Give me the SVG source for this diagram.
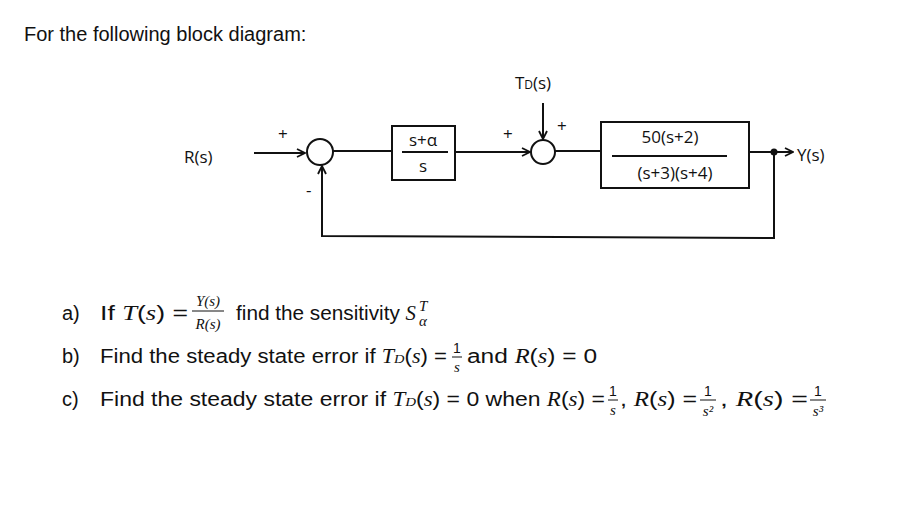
<svg xmlns="http://www.w3.org/2000/svg" width="897" height="522" viewBox="0 0 897 522">
<style>
.t{font-family:"Liberation Sans",Arial,sans-serif;font-size:20px;fill:#111}
.h{font-family:"Open Sans","Liberation Sans",sans-serif;font-size:17px;fill:#111}
.m{font-family:"Liberation Serif",serif;font-style:italic;font-size:20px;fill:#111}
.ms{font-family:"Liberation Serif",serif;font-style:italic;font-size:15px;fill:#111}
.n{font-family:"Liberation Sans",sans-serif;font-size:14px;fill:#111}
.s{fill:none;stroke:#111;stroke-width:2}
</style>
<defs><marker id="a" markerWidth="10" markerHeight="10" refX="9" refY="5" orient="auto" markerUnits="userSpaceOnUse"><path d="M1,1 L9,5 L1,9" fill="none" stroke="#111" stroke-width="1.8"/></marker></defs>
<rect width="897" height="522" fill="#fff"/>
<text class="t" x="24" y="41">For the following block diagram:</text>
<g id="R"><text class="h" x="184" y="163" font-size="21">R(s)</text></g>
<g id="sum1"><circle class="s" cx="320" cy="152" r="13"/><text class="h" x="278" y="140" font-size="14">+</text><text class="h" x="306" y="196" font-size="16">-</text></g>
<g id="G1"><rect class="s" x="392" y="126" width="63" height="54"/><text class="h" x="423" y="146" text-anchor="middle">s+α</text><line class="s" x1="402" y1="152" x2="448" y2="152" stroke-width="1.5"/><text class="h" x="423" y="172" text-anchor="middle">s</text></g>
<g id="TD"><text class="h" x="533" y="89" text-anchor="middle" font-size="15">T<tspan font-size="12">D</tspan>(s)</text></g>
<g id="sum2"><circle class="s" cx="543" cy="152" r="12"/><text class="h" x="503" y="140" font-size="14">+</text><text class="h" x="557" y="132" font-size="13">+</text></g>
<g id="G2"><rect class="s" x="601" y="122" width="148" height="66"/><text class="h" x="670" y="143" text-anchor="middle">50(s+2)</text><line class="s" x1="612" y1="156" x2="727" y2="156" stroke-width="1.5"/><text class="h" x="675" y="179" text-anchor="middle">(s+3)(s+4)</text></g>
<g id="Y"><text class="h" x="797" y="161" font-size="21">Y(s)</text></g>
<g id="connectors">
<line class="s" x1="254" y1="153" x2="305" y2="153" marker-end="url(#a)"/>
<line class="s" x1="333" y1="151" x2="392" y2="151"/>
<line class="s" x1="455" y1="152" x2="530" y2="152" marker-end="url(#a)"/>
<line class="s" x1="543" y1="103" x2="543" y2="139" marker-end="url(#a)"/>
<line class="s" x1="555" y1="151" x2="601" y2="151"/>
<line class="s" x1="749" y1="152" x2="793" y2="152" marker-end="url(#a)"/>
<circle cx="774" cy="152" r="3.5" fill="#111"/>
<polyline class="s" points="774,152 774,238 322,236 322,166" marker-end="url(#a)"/>
</g>
<g id="questions">
<text class="t" x="62" y="320">a)</text>
<text class="t" x="100" y="320" textLength="88" lengthAdjust="spacingAndGlyphs">If <tspan class="m">T</tspan>(<tspan class="m">s</tspan>) =</text>
<text class="ms" x="208" y="306" text-anchor="middle">Y(s)</text><line x1="192" y1="311" x2="224" y2="311" stroke="#111"/><text class="ms" x="208" y="329" text-anchor="middle">R(s)</text>
<text class="t" x="236" y="320" textLength="180" lengthAdjust="spacingAndGlyphs">find the sensitivity <tspan class="m">S</tspan></text>
<text class="ms" x="419" y="311">T</text><text class="ms" x="419" y="326">α</text>
<text class="t" x="62" y="363">b)</text>
<text class="t" x="100" y="363" textLength="347" lengthAdjust="spacingAndGlyphs">Find the steady state error if <tspan class="m">T<tspan font-size="13">D</tspan></tspan>(<tspan class="m">s</tspan>) =</text>
<text class="n" x="457" y="353" text-anchor="middle">1</text><line x1="452" y1="357" x2="462" y2="357" stroke="#111"/><text class="ms" x="457" y="372" text-anchor="middle">s</text>
<text class="t" x="467" y="363" textLength="130" lengthAdjust="spacingAndGlyphs">and <tspan class="m">R</tspan>(<tspan class="m">s</tspan>) = 0</text>
<text class="t" x="62" y="406">c)</text>
<text class="t" x="100" y="406" textLength="505" lengthAdjust="spacingAndGlyphs">Find the steady state error if <tspan class="m">T<tspan font-size="13">D</tspan></tspan>(<tspan class="m">s</tspan>) = 0 when <tspan class="m">R</tspan>(<tspan class="m">s</tspan>) =</text>
<text class="n" x="613" y="396" text-anchor="middle">1</text><line x1="608" y1="400" x2="618" y2="400" stroke="#111"/><text class="ms" x="613" y="415" text-anchor="middle">s</text>
<text class="t" x="620" y="406" textLength="77" lengthAdjust="spacingAndGlyphs">, <tspan class="m">R</tspan>(<tspan class="m">s</tspan>) =</text>
<text class="n" x="708" y="396" text-anchor="middle">1</text><line x1="700" y1="400" x2="716" y2="400" stroke="#111"/><text class="ms" x="708" y="416" text-anchor="middle">s²</text>
<text class="t" x="720" y="406" textLength="88" lengthAdjust="spacingAndGlyphs">, <tspan class="m">R</tspan>(<tspan class="m">s</tspan>) =</text>
<text class="n" x="818" y="396" text-anchor="middle">1</text><line x1="810" y1="400" x2="826" y2="400" stroke="#111"/><text class="ms" x="818" y="416" text-anchor="middle">s³</text>
</g>
</svg>
